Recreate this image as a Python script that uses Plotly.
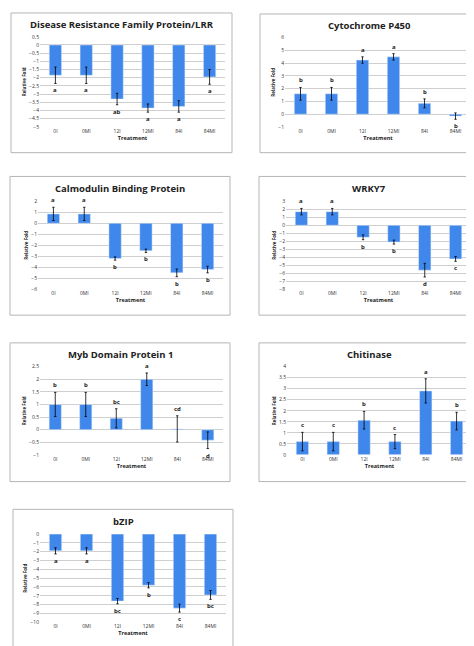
import plotly.graph_objects as go

cats = ["0I", "0MI", "12I", "12MI", "84I", "84MI"]
titles = ["Disease Resistance Family Protein/LRR", "Cytochrome P450", "Calmodulin Binding Protein",
          "WRKY7", "Myb Domain Protein 1", "Chitinase", "bZIP"]
vals = [
    [-1.85, -1.85, -3.3, -3.85, -3.75, -1.95],
    [1.6, 1.6, 4.25, 4.5, 0.85, -0.15],
    [0.85, 0.85, -3.2, -2.5, -4.5, -4.2],
    [1.7, 1.7, -1.5, -2.1, -5.6, -4.2],
    [1.0, 1.0, 0.45, 2.0, 0.03, -0.42],
    [0.6, 0.6, 1.57, 0.6, 2.9, 1.53],
    [-1.9, -1.9, -7.6, -5.8, -8.4, -6.9],
]
errs = [
    [0.5, 0.5, 0.35, 0.25, 0.35, 0.45],
    [0.5, 0.5, 0.25, 0.25, 0.35, 0.25],
    [0.6, 0.6, 0.15, 0.15, 0.35, 0.3],
    [0.4, 0.4, 0.3, 0.25, 0.85, 0.3],
    [0.48, 0.48, 0.38, 0.25, 0.52, 0.33],
    [0.42, 0.42, 0.4, 0.32, 0.55, 0.4],
    [0.35, 0.35, 0.3, 0.3, 0.45, 0.5],
]
letters = [
    ["a", "a", "ab", "a", "a", "a"],
    ["b", "b", "a", "a", "b", "b"],
    ["a", "a", "b", "b", "b", "b"],
    ["a", "a", "b", "b", "d", "c"],
    ["b", "b", "bc", "a", "cd", "d"],
    ["c", "c", "b", "c", "a", "b"],
    ["a", "a", "bc", "b", "c", "bc"],
]
ranges = [(-5, 0.5, 0.5), (-1, 6, 1), (-6, 2, 1), (-8, 3, 1), (-1, 2.5, 0.5), (0, 4, 0.5), (-10, 0, 1)]

W, H = 474, 646
areas = [(32, 217, 26, 117), (277, 463, 27, 117), (30, 215, 192, 281), (278, 463, 192, 281),
         (32, 215, 359, 448), (279, 464, 359, 448), (32, 218, 528, 617)]
boxes = [(3, 224, 2, 143), (252, 471, 3, 143), (2, 222, 167, 307), (251, 471, 167, 307),
         (2, 222, 335, 475), (251, 471, 335, 475), (5, 225, 503, 645)]

fig = go.Figure()
ann = []
shapes = []
for i in range(7):
    n = "" if i == 0 else str(i + 1)
    x0, x1, y0, y1 = areas[i]
    fig.add_trace(go.Bar(x=cats, y=vals[i], xaxis="x" + n, yaxis="y" + n, width=0.4,
                         marker_color="#3f87ea",
                         error_y=dict(type="data", array=errs[i], color="black", thickness=0.8, width=1.2),
                         showlegend=False))
    lo, hi, dt = ranges[i]
    fig.layout["xaxis" + n] = dict(domain=[x0 / W, x1 / W], anchor="y" + n, showline=False,
                                   tickfont=dict(size=5, color="#333"),
                                   title=dict(text="<b>Treatment</b>", font=dict(size=5.5, color="#222"), standoff=2))
    fig.layout["yaxis" + n] = dict(domain=[1 - y1 / H, 1 - y0 / H], anchor="x" + n, range=[lo, hi], dtick=dt,
                                   gridcolor="#cfcfcf", zeroline=False, tickfont=dict(size=5, color="#333"),
                                   title=dict(text="<b>Relative Fold</b>", font=dict(size=4.5, color="#222"), standoff=2))
    for j, c in enumerate(cats):
        v, e = vals[i][j], errs[i][j]
        if v >= 0:
            ann.append(dict(x=c, y=v + e, xref="x" + n, yref="y" + n, text="<b>%s</b>" % letters[i][j],
                            showarrow=False, yanchor="bottom", yshift=1, font=dict(size=6, color="#222")))
        else:
            ann.append(dict(x=c, y=v - e, xref="x" + n, yref="y" + n, text="<b>%s</b>" % letters[i][j],
                            showarrow=False, yanchor="top", yshift=-1, font=dict(size=6, color="#222")))
    bx0, bx1, by0, by1 = boxes[i]
    shapes.append(dict(type="rect", xref="paper", yref="paper", x0=bx0 / W, x1=bx1 / W,
                       y0=1 - by1 / H, y1=1 - by0 / H, line=dict(color="#b5b5b5", width=1)))
    ann.append(dict(x=(bx0 + bx1) / 2 / W, y=1 - (by0 + 12) / H, xref="paper", yref="paper",
                    xanchor="center", yanchor="middle",
                    text="<b>%s</b>" % titles[i], showarrow=False, font=dict(size=9.5, color="#222")))

fig.update_layout(width=W, height=H, margin=dict(l=0, r=0, t=0, b=0), paper_bgcolor="white",
                  plot_bgcolor="white", annotations=ann, shapes=shapes, font=dict(family="Open Sans"))
fig.write_html("out.html")
